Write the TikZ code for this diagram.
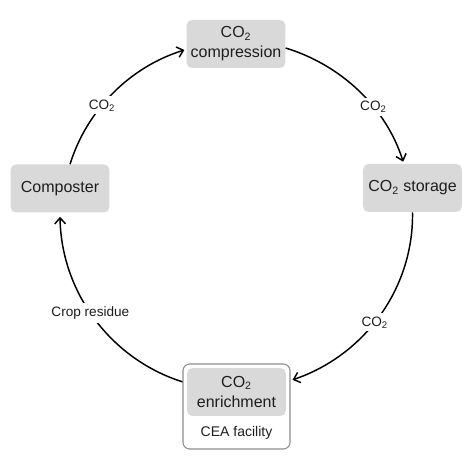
\documentclass[tikz,border=0pt]{standalone}
\usepackage{fontspec}
\setmainfont{Liberation Sans}
\usetikzlibrary{arrows.meta}
\definecolor{boxgray}{HTML}{D9D9D9}
\definecolor{edgegray}{HTML}{8C8C8C}
\definecolor{txt}{HTML}{1E1E1E}
\tikzset{
  box/.style={fill=boxgray, draw=none, rounded corners=4pt, minimum width=74pt, minimum height=36pt,
    align=center, text=txt, font=\fontsize{12}{15}\selectfont, inner sep=2pt},
  outerbox/.style={draw=edgegray, fill=white, line width=0.8pt, rounded corners=5pt,
    minimum width=80.25pt, minimum height=63.75pt},
  lab/.style={fill=white, text=txt, font=\fontsize{10.2}{12}\selectfont, inner sep=2.5pt},
  flow/.style={line width=1.1pt, -{Straight Barb[length=4.5pt,width=8pt,line width=1.1pt]}}
}
\begin{document}
\begin{tikzpicture}[x=0.75pt,y=0.75pt]
\useasboundingbox (0,0) rectangle (474,474);
\node[box] (compression) at (236,430) {CO\textsubscript{2}\\compression};
\node[box] (composter) at (60,285.5) {Composter};
\node[box] (storage) at (412.5,286) {CO\textsubscript{2} storage};
\node[outerbox] (cea) at (236.5,67.5) {};
\node[box] (enrich) at (236.5,82) {CO\textsubscript{2}\\enrichment};
\node[lab, fill=none, font=\fontsize{10.5}{12}\selectfont] (ceatext) at (236.5,41) {CEA facility};

\draw[flow] ([xshift=7.5pt]composter.north) to[out=72.6, in=197.2, looseness=0.9]
  node[lab, pos=0.4] (l1) {CO\textsubscript{2}} ([xshift=-1.5pt,yshift=-4.5pt]compression.west);
\draw[flow] ([yshift=-3pt]compression.east) to[out=-17, in=107.6, looseness=0.9]
  node[lab, pos=0.63] (l2) {CO\textsubscript{2}} ([xshift=-7pt,yshift=1.5pt]storage.north);
\draw[flow] (storage.south) to[out=-89, in=18.7, looseness=0.94]
  node[lab, pos=0.54] (l3) {CO\textsubscript{2}} ([xshift=1.5pt,yshift=20pt]cea.east);
\draw[flow] ([yshift=18.5pt]cea.west) to[out=162.4, in=-89, looseness=0.94]
  node[lab, pos=0.535] (l4) {Crop residue} ([yshift=-3pt]composter.south);
\end{tikzpicture}
\end{document}
